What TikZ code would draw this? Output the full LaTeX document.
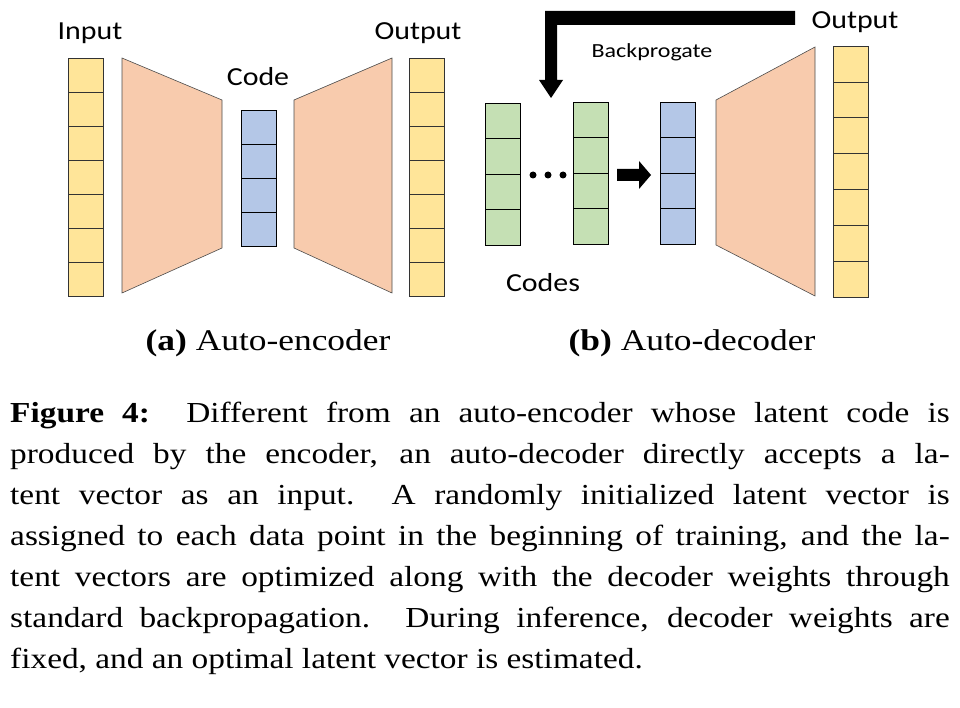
\documentclass[tikz,border=0pt]{standalone}
\usepackage{fontspec}
\usepackage{graphicx}
\setmainfont{Liberation Serif}
\newfontfamily\lblfont{Carlito}
\usetikzlibrary{positioning}
\definecolor{cellyel}{RGB}{255,229,153}
\definecolor{cellblu}{RGB}{180,199,231}
\definecolor{cellgrn}{RGB}{197,224,180}
\definecolor{netpch}{RGB}{248,203,173}
\newcommand{\wide}[2][1.15]{\scalebox{#1}[1]{#2}}
\begin{document}
\begin{tikzpicture}[x=1pt,y=-1pt,
    cell/.style={draw,line width=0.8pt,minimum width=35pt,minimum height=34pt,inner sep=0pt},
    yel/.style={cell,fill=cellyel,draw=black!80},
    blu/.style={cell,fill=cellblu},
    grn/.style={cell,fill=cellgrn,minimum height=35.5pt},
    net/.style={fill=netpch,draw=black!70,line width=0.6pt},
    lbl/.style={font=\lblfont\fontsize{26}{28}\selectfont},
    sub/.style={font=\fontsize{30}{34}\selectfont}
]
\useasboundingbox (0,0) rectangle (960,708);

% (a) auto-encoder
\foreach \i in {0,...,6} {
  \node[yel] (in\i) at (85.5,75+34*\i) {};
  \node[yel] (out\i) at (427,75+34*\i) {};
}
\foreach \i in {0,...,3}
  \node[blu] (code\i) at (258.5,127+34*\i) {};
\draw[net] (122,58) -- (222,100) -- (222,248) -- (122,293) -- cycle;
\draw[net] (294,100) -- (392,58) -- (392,293) -- (294,248) -- cycle;
\node[lbl] (inlbl) at (90,33) {\wide{Input}};
\node[lbl] (codelbl) at (258,77) {\wide{Code}};
\node[lbl] (outlbl) at (418,33) {\wide{Output}};
\node[sub] (capa) at (268,343) {\wide[1.18]{\textbf{(a)} Auto-encoder}};

% (b) auto-decoder
\foreach \i in {0,...,3} {
  \node[grn] (ca\i) at (503,121+35.5*\i) {};
  \node[grn] (cb\i) at (591,120+35.5*\i) {};
  \node[blu,minimum height=35.5pt] (lat\i) at (678,120+35.5*\i) {};
}
\foreach \i in {0,...,6}
  \node[yel,minimum height=35.9pt] (dout\i) at (850.5,64+35.9*\i) {};
\draw[net] (716,100) -- (815,47) -- (815,296) -- (716,245) -- cycle;
\foreach \x in {533,548,563}
  \fill (\x,175) circle [radius=3.5pt];
\coordinate (arrs) at (617,175);
\coordinate (arre) at (651,175);
\fill (arrs) ++(0,-6) -- ++(22,0) -- ++(0,-8) -- (arre) -- ++(-12,14) -- ++(0,-8) -- ++(-22,0) -- cycle;
\coordinate (bpr) at (795,18);
\fill (bpr) ++(0,-7) -- (545,11) -- (545,80) -- (539,80) -- (551,98) -- (563,80) -- (557,80) -- (557,25) -- (795,25) -- cycle;
\node[lbl,font=\lblfont\fontsize{20}{22}\selectfont] (bplbl) at (652,52) {\wide[1.2]{Backprogate}};
\node[lbl] (doutlbl) at (855,22) {\wide{Output}};
\node[lbl] (codeslbl) at (543,283) {\wide{Codes}};
\node[sub] (capb) at (692,343) {\wide[1.18]{\textbf{(b)} Auto-decoder}};

% figure caption
\node[anchor=north west,inner sep=0pt] (figcap) at (10,402)
  {\wide{\parbox{817pt}{\fontsize{29}{41}\selectfont
   \textbf{Figure 4:}\ \ Different from an auto-encoder whose latent code is\linebreak
   produced by the encoder, an auto-decoder directly accepts a la-\linebreak
   tent vector as an input.\ \ A randomly initialized latent vector is\linebreak
   assigned to each data point in the beginning of training, and the la-\linebreak
   tent vectors are optimized along with the decoder weights through\linebreak
   standard backpropagation. During inference, decoder weights are\linebreak
   fixed, and an optimal latent vector is estimated.}}};
\end{tikzpicture}
\end{document}
